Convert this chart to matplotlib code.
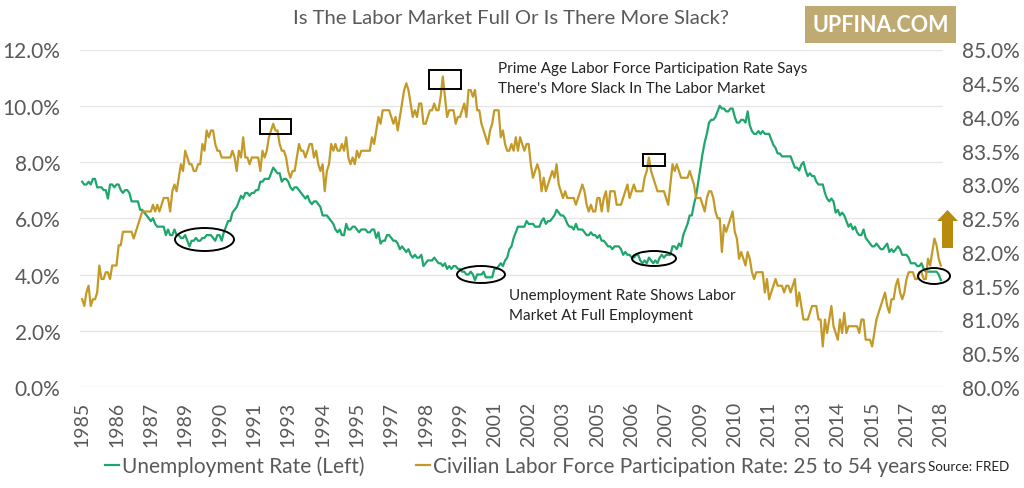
import matplotlib
matplotlib.use("Agg")
import matplotlib.pyplot as plt
from matplotlib.patches import Rectangle, Ellipse, Polygon

plt.rcParams['font.family'] = ['Lato', 'DejaVu Sans']

# monthly, Jan 1985 to May 2018
unemployment = [
    7.3, 7.2, 7.2, 7.3, 7.2, 7.4, 7.4, 7.1, 7.1, 7.1, 7.0, 7.0,
    6.7, 7.2, 7.2, 7.1, 7.2, 7.2, 7.0, 6.9, 7.0, 7.0, 6.9, 6.6,
    6.6, 6.6, 6.6, 6.3, 6.3, 6.2, 6.1, 6.0, 5.9, 6.0, 5.8, 5.7,
    5.7, 5.7, 5.7, 5.4, 5.6, 5.4, 5.4, 5.6, 5.4, 5.4, 5.3, 5.3,
    5.4, 5.2, 5.0, 5.2, 5.2, 5.3, 5.2, 5.2, 5.3, 5.3, 5.4, 5.4,
    5.4, 5.3, 5.2, 5.4, 5.4, 5.2, 5.5, 5.7, 5.9, 5.9, 6.2, 6.3,
    6.4, 6.6, 6.8, 6.7, 6.9, 6.9, 6.8, 6.9, 6.9, 7.0, 7.0, 7.3,
    7.3, 7.4, 7.4, 7.4, 7.6, 7.8, 7.7, 7.6, 7.6, 7.3, 7.4, 7.4,
    7.3, 7.1, 7.0, 7.1, 7.1, 7.0, 6.9, 6.8, 6.7, 6.8, 6.6, 6.5,
    6.6, 6.6, 6.5, 6.4, 6.1, 6.1, 6.1, 6.0, 5.9, 5.8, 5.6, 5.5,
    5.6, 5.4, 5.4, 5.8, 5.6, 5.6, 5.7, 5.7, 5.6, 5.5, 5.6, 5.6,
    5.6, 5.5, 5.5, 5.6, 5.6, 5.3, 5.5, 5.1, 5.2, 5.2, 5.4, 5.4,
    5.3, 5.2, 5.2, 5.1, 4.9, 5.0, 4.9, 4.8, 4.9, 4.7, 4.6, 4.7,
    4.6, 4.6, 4.7, 4.3, 4.4, 4.5, 4.5, 4.5, 4.6, 4.5, 4.4, 4.4,
    4.3, 4.4, 4.2, 4.3, 4.2, 4.3, 4.3, 4.2, 4.2, 4.1, 4.1, 4.0,
    4.0, 4.1, 4.0, 3.8, 4.0, 4.0, 4.0, 4.1, 3.9, 3.9, 3.9, 3.9,
    4.2, 4.2, 4.3, 4.4, 4.3, 4.5, 4.6, 4.9, 5.0, 5.3, 5.5, 5.7,
    5.7, 5.7, 5.7, 5.9, 5.8, 5.8, 5.8, 5.7, 5.7, 5.7, 5.9, 6.0,
    5.8, 5.9, 5.9, 6.0, 6.1, 6.3, 6.2, 6.1, 6.1, 6.0, 5.8, 5.7,
    5.7, 5.6, 5.8, 5.6, 5.6, 5.6, 5.5, 5.4, 5.4, 5.5, 5.4, 5.4,
    5.3, 5.4, 5.2, 5.2, 5.1, 5.0, 5.0, 4.9, 5.0, 5.0, 5.0, 4.9,
    4.7, 4.8, 4.7, 4.7, 4.6, 4.6, 4.7, 4.7, 4.5, 4.4, 4.5, 4.4,
    4.6, 4.5, 4.4, 4.5, 4.4, 4.6, 4.7, 4.6, 4.7, 4.7, 4.7, 5.0,
    5.0, 4.9, 5.1, 5.0, 5.4, 5.6, 5.8, 6.1, 6.1, 6.5, 6.8, 7.3,
    7.8, 8.3, 8.7, 9.0, 9.4, 9.5, 9.5, 9.6, 9.8, 10.0, 9.9, 9.9,
    9.8, 9.8, 9.9, 9.9, 9.6, 9.4, 9.4, 9.5, 9.5, 9.4, 9.8, 9.3,
    9.1, 9.0, 9.0, 9.1, 9.0, 9.1, 9.0, 9.0, 9.0, 8.8, 8.6, 8.5,
    8.3, 8.3, 8.2, 8.2, 8.2, 8.2, 8.2, 8.0, 7.8, 7.8, 7.7, 7.9,
    8.0, 7.7, 7.5, 7.6, 7.5, 7.5, 7.3, 7.2, 7.2, 7.2, 6.9, 6.7,
    6.6, 6.7, 6.6, 6.2, 6.3, 6.1, 6.2, 6.1, 5.9, 5.7, 5.8, 5.6,
    5.7, 5.5, 5.4, 5.4, 5.6, 5.3, 5.2, 5.1, 5.0, 5.0, 5.1, 5.0,
    4.9, 4.9, 5.0, 5.1, 4.8, 4.9, 4.8, 4.9, 5.0, 4.9, 4.7, 4.7,
    4.7, 4.6, 4.4, 4.4, 4.4, 4.3, 4.3, 4.4, 4.2, 4.1, 4.1, 4.1,
    4.1, 4.1, 4.1, 4.0, 3.8,
]

participation = [
    81.3, 81.2, 81.4, 81.5, 81.2, 81.3, 81.3, 81.4, 81.8, 81.6,
    81.6, 81.7, 81.7, 81.6, 81.8, 81.8, 81.8, 82.1, 82.1, 82.3,
    82.3, 82.3, 82.3, 82.3, 82.2, 82.3, 82.4, 82.5, 82.6, 82.6,
    82.6, 82.6, 82.6, 82.7, 82.6, 82.7, 82.6, 82.7, 82.8, 82.8,
    82.8, 82.6, 82.9, 83.0, 82.9, 83.1, 83.3, 83.2, 83.5, 83.4,
    83.3, 83.3, 83.2, 83.2, 83.3, 83.3, 83.6, 83.5, 83.8, 83.7,
    83.8, 83.8, 83.6, 83.5, 83.5, 83.4, 83.4, 83.4, 83.4, 83.4,
    83.5, 83.4, 83.2, 83.5, 83.4, 83.7, 83.4, 83.4, 83.3, 83.4,
    83.4, 83.4, 83.4, 83.2, 83.5, 83.4, 83.5, 83.7, 83.8, 83.9,
    83.8, 83.8, 83.6, 83.5, 83.5, 83.4, 83.2, 83.1, 83.2, 83.2,
    83.4, 83.6, 83.5, 83.5, 83.4, 83.5, 83.6, 83.6, 83.4, 83.5,
    83.3, 83.2, 83.3, 82.9, 83.2, 83.3, 83.6, 83.5, 83.6, 83.5,
    83.5, 83.6, 83.5, 83.7, 83.4, 83.3, 83.4, 83.3, 83.5, 83.4,
    83.5, 83.5, 83.5, 83.5, 83.5, 83.7, 83.6, 83.8, 84.0, 83.9,
    84.1, 84.1, 84.1, 84.1, 84.0, 83.9, 84.0, 83.8, 84.0, 84.2,
    84.4, 84.5, 84.4, 84.2, 84.0, 84.1, 84.0, 84.2, 84.2, 83.9,
    83.9, 84.0, 84.1, 84.1, 84.2, 84.1, 84.1, 84.3, 84.6, 84.3,
    84.0, 84.1, 84.1, 84.1, 83.9, 84.0, 84.0, 84.1, 84.2, 84.0,
    84.4, 84.4, 84.3, 84.4, 84.1, 84.1, 83.9, 83.8, 83.7, 83.6,
    83.8, 83.9, 84.1, 84.1, 84.1, 83.7, 83.8, 83.6, 83.5, 83.5,
    83.6, 83.5, 83.7, 83.5, 83.7, 83.6, 83.5, 83.6, 83.6, 83.3,
    83.1, 83.2, 83.3, 83.2, 82.9, 83.1, 82.9, 83.0, 83.1, 83.2,
    83.1, 83.3, 83.0, 82.9, 82.8, 82.9, 82.8, 82.8, 82.8, 82.8,
    82.7, 82.8, 82.9, 83.0, 82.9, 82.7, 82.6, 82.7, 82.6, 82.6,
    82.8, 82.8, 82.6, 82.8, 82.9, 82.6, 82.9, 82.9, 82.9, 82.7,
    82.7, 82.7, 82.8, 82.9, 83.0, 82.8, 82.9, 83.0, 82.9, 82.9,
    82.9, 82.9, 83.1, 83.2, 83.4, 83.2, 83.1, 83.0, 82.9, 82.9,
    82.9, 82.9, 82.8, 82.7, 83.0, 83.3, 83.2, 83.3, 83.2, 83.1,
    83.1, 83.1, 83.1, 83.2, 83.1, 83.0, 82.8, 82.8, 82.8, 82.7,
    82.6, 82.8, 82.9, 82.9, 82.8, 82.6, 82.5, 82.5, 82.0, 82.4,
    82.3, 82.4, 82.5, 82.6, 82.3, 82.2, 81.9, 82.0, 81.9, 81.8,
    82.0, 81.9, 81.7, 81.6, 81.7, 81.7, 81.7, 81.7, 81.4, 81.6,
    81.3, 81.4, 81.5, 81.6, 81.5, 81.5, 81.5, 81.4, 81.5, 81.5,
    81.4, 81.5, 81.6, 81.2, 81.4, 81.2, 81.0, 81.0, 81.0, 81.1,
    81.2, 81.2, 81.2, 81.0, 81.0, 80.6, 81.0, 80.8, 81.0, 81.2,
    80.9, 80.8, 80.7, 81.0, 80.8, 81.1, 80.8, 80.9, 80.9, 80.9,
    80.9, 80.9, 80.8, 81.0, 81.0, 80.7, 80.7, 80.7, 80.6, 80.8,
    81.0, 81.1, 81.2, 81.3, 81.4, 81.2, 81.1, 81.3, 81.3, 81.5,
    81.6, 81.4, 81.3, 81.4, 81.6, 81.7, 81.7, 81.7, 81.6, 81.6,
    81.7, 81.7, 81.6, 81.6, 81.9, 81.8, 82.0, 82.2, 82.1, 81.9,
    81.8,
]

year_labels = ['1985', '1986', '1987', '1989', '1990', '1991', '1993', '1994', '1995',
               '1997', '1998', '1999', '2001', '2002', '2003', '2005', '2006', '2007',
               '2009', '2010', '2011', '2013', '2014', '2015', '2017', '2018']
left_ticks = [0, 2, 4, 6, 8, 10, 12]
right_ticks = [80, 80.5, 81, 81.5, 82, 82.5, 83, 83.5, 84, 84.5, 85]

GREEN = '#1fa66c'
GOLD = '#c39a27'
TICK = '#595959'

fig = plt.figure(figsize=(10.24, 4.89), dpi=100)
W, H = 1024.0, 489.0
ax = fig.add_axes([80 / W, 1 - 388 / H, 863 / W, 337.5 / H])
ax2 = ax.twinx()

months = list(range(len(unemployment)))
line1, = ax.plot(months, unemployment, color=GREEN, lw=1.6)
line2, = ax2.plot(months, participation, color=GOLD, lw=1.6)

ax.set_xlim(-1, 401)
ax.set_ylim(0, 12)
ax2.set_ylim(80, 85)
ax.set_xticks(months[::16])
ax.set_xticklabels(year_labels, rotation=90, fontsize=14, color=TICK)
ax.set_yticks(left_ticks)
ax.set_yticklabels(['%.1f%%' % v for v in left_ticks], fontsize=15, color=TICK)
ax2.set_yticks(right_ticks)
ax2.set_yticklabels(['%.1f%%' % v for v in right_ticks], fontsize=15, color=TICK)
ax.tick_params(axis='both', length=0)
ax.tick_params(axis='y', pad=14)
ax.tick_params(axis='x', pad=10)
ax2.tick_params(axis='y', length=0, pad=14)
ax.grid(axis='y', color='#e6e6e6', lw=1)
ax.set_axisbelow(True)
for a in (ax, ax2):
    for s in a.spines.values():
        s.set_visible(False)

# overlay in picture pixels for the callouts
over = fig.add_axes([0, 0, 1, 1], zorder=5)
over.set_xlim(0, W)
over.set_ylim(H, 0)
over.axis('off')

for x0, y0, x1, y1 in [(260, 120, 291, 135), (429, 71, 461, 90), (643, 155, 665, 167)]:
    over.add_patch(Rectangle((x0, y0), x1 - x0, y1 - y0, fill=False, ec='black', lw=1.4))
for x0, y0, x1, y1 in [(175, 229, 234, 252), (457, 267, 505, 284),
                       (632, 252, 676, 267), (918, 269, 950, 285)]:
    over.add_patch(Ellipse(((x0 + x1) / 2, (y0 + y1) / 2), x1 - x0, y1 - y0,
                           fill=False, ec='black', lw=1.4))

over.add_patch(Polygon([(942, 249), (953, 249), (953, 222), (958, 222), (947.5, 211),
                        (937, 222), (942, 222)], closed=True, fc='#b88a0e', ec='none'))

over.add_patch(Rectangle((805, 7), 151, 37, fc='#bfab72', ec='none'))
over.text(880.5, 26, 'UPFINA.COM', color='white', fontsize=15.5, fontweight='bold',
          ha='center', va='center')

over.text(511, 19, 'Is The Labor Market Full Or Is There More Slack?', color=TICK,
          fontsize=14.6, ha='center', va='center')
over.text(498, 69, 'Prime Age Labor Force Participation Rate Says', fontsize=10.9,
          color='#222222', va='center')
over.text(498, 89, "There's More Slack In The Labor Market", fontsize=10.9,
          color='#222222', va='center')
over.text(509, 296, 'Unemployment Rate Shows Labor', fontsize=10.9, color='#222222', va='center')
over.text(509, 316, 'Market At Full Employment', fontsize=10.9, color='#222222', va='center')
over.text(928, 467, 'Source: FRED', fontsize=9.6, color='#222222', va='center')

fig.legend([line1, line2],
           ['Unemployment Rate (Left)', 'Civilian Labor Force Participation Rate: 25 to 54 years'],
           loc='center left', bbox_to_anchor=(105 / W, 1 - 467 / H), ncol=2, frameon=False,
           handlelength=0.65, handletextpad=0.15, columnspacing=2.5, borderpad=0, borderaxespad=0,
           prop={'size': 15}, labelcolor=TICK)

fig.savefig('out.png', dpi=100)
